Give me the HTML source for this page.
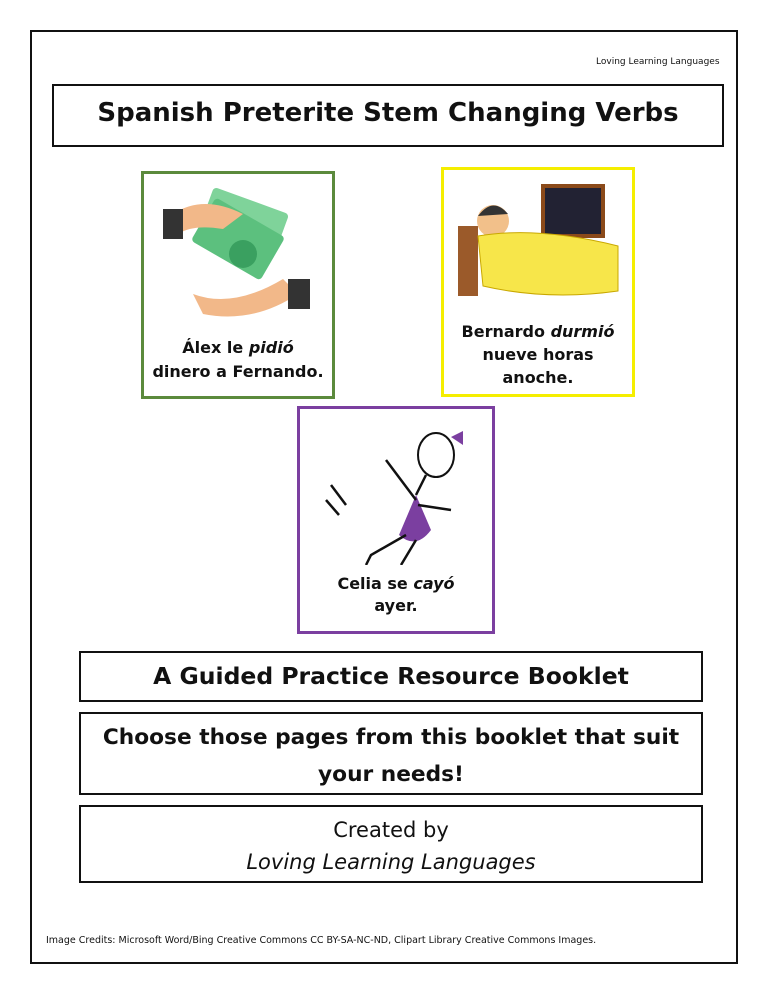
<!DOCTYPE html>
<html><head><meta charset="utf-8"><style>
*{margin:0;padding:0;box-sizing:border-box}
body{width:768px;height:994px;background:#fff;position:relative;font-family:"DejaVu Sans","Liberation Sans",sans-serif;color:#111;overflow:hidden}
.a{position:absolute}
.box{position:absolute;border:2px solid #111;text-align:center}
.card{position:absolute;border:3px solid;text-align:center;font-weight:bold;font-size:16px;line-height:22px}
</style></head><body>
<div class="a" style="left:30px;top:30px;width:708px;height:934px;border:2px solid #111"></div>
<div class="a" style="left:596px;top:57px;font-size:9px">Loving Learning Languages</div>
<div class="box" style="left:52px;top:84px;width:672px;height:63px;font-size:26px;line-height:54px;font-weight:bold">Spanish Preterite Stem Changing Verbs</div>
<div class="card" style="left:141px;top:171px;width:194px;height:228px;border-color:#5b8a3c">
 <svg width="150" height="140" style="margin-top:10px" viewBox="0 0 150 140">
  <rect x="40" y="15" width="80" height="50" rx="4" fill="#7fd39a" transform="rotate(20 80 40)"/>
  <rect x="35" y="30" width="80" height="50" rx="4" fill="#5cc07e" transform="rotate(30 75 55)"/>
  <circle cx="80" cy="70" r="14" fill="#3aa060"/>
  <path d="M10 30 Q40 10 80 30 L60 45 Q30 40 15 50Z" fill="#f2b889"/>
  <path d="M30 110 Q70 125 120 95 L135 110 Q90 140 40 130Z" fill="#f2b889"/>
  <rect x="0" y="25" width="20" height="30" fill="#333"/>
  <rect x="125" y="95" width="22" height="30" fill="#333"/>
 </svg>
 <div style="margin-top:6px;line-height:24px">Álex le <i>pidió</i><br>dinero a Fernando.</div>
</div>
<div class="card" style="left:441px;top:167px;width:194px;height:230px;border-color:#f5ee00">
 <svg width="180" height="130" style="margin-top:6px" viewBox="0 0 180 130">
  <rect x="95" y="10" width="60" height="50" fill="#223" stroke="#8b4a1a" stroke-width="4"/>
  <rect x="10" y="50" width="20" height="70" fill="#9b5a2a"/>
  <circle cx="45" cy="45" r="16" fill="#f2c08a"/><path d="M30 40 Q45 20 60 38" fill="#333"/>
  <path d="M30 60 Q90 50 170 70 L170 115 Q100 125 35 110Z" fill="#f7e64a" stroke="#c9a800"/>
 </svg>
 <div style="margin-top:8px;line-height:23px">Bernardo <i>durmió</i><br>nueve horas<br>anoche.</div>
</div>
<div class="card" style="left:297px;top:406px;width:198px;height:228px;border-color:#7b3fa0">
 <svg width="170" height="150" style="margin-top:6px;margin-left:0px" viewBox="0 0 170 150">
  <ellipse cx="125" cy="40" rx="18" ry="22" fill="#fff" stroke="#111" stroke-width="2"/>
  <path d="M140 22 l12 -6 l0 14z" fill="#7b3fa0"/>
  <path d="M105 80 L88 120 Q105 135 120 115Z" fill="#7b3fa0"/>
  <path d="M115 60 L105 80 M105 85 L75 45 M107 90 L140 95 M95 120 L60 140 L55 150 M105 125 L90 150 M20 70 L35 90 M15 85 L28 100" stroke="#111" stroke-width="2.5" fill="none"/>
 </svg>
 <div style="margin-top:2px;margin-left:0px">Celia se <i>cayó</i><br>ayer.</div>
</div>
<div class="box" style="left:79px;top:651px;width:624px;height:51px;font-size:23.5px;line-height:46px;font-weight:bold">A Guided Practice Resource Booklet</div>
<div class="box" style="left:79px;top:712px;width:624px;height:83px;font-size:21.7px;line-height:37px;font-weight:bold;padding-top:5px">Choose those pages from this booklet that suit<br>your needs!</div>
<div class="box" style="left:79px;top:805px;width:624px;height:78px;font-size:21px;line-height:32px;padding-top:7px">Created by<br><i>Loving Learning Languages</i></div>
<div class="a" style="left:46px;top:935px;font-size:9.5px">Image Credits: Microsoft Word/Bing Creative Commons CC BY-SA-NC-ND, Clipart Library Creative Commons Images.</div>
</body></html>
